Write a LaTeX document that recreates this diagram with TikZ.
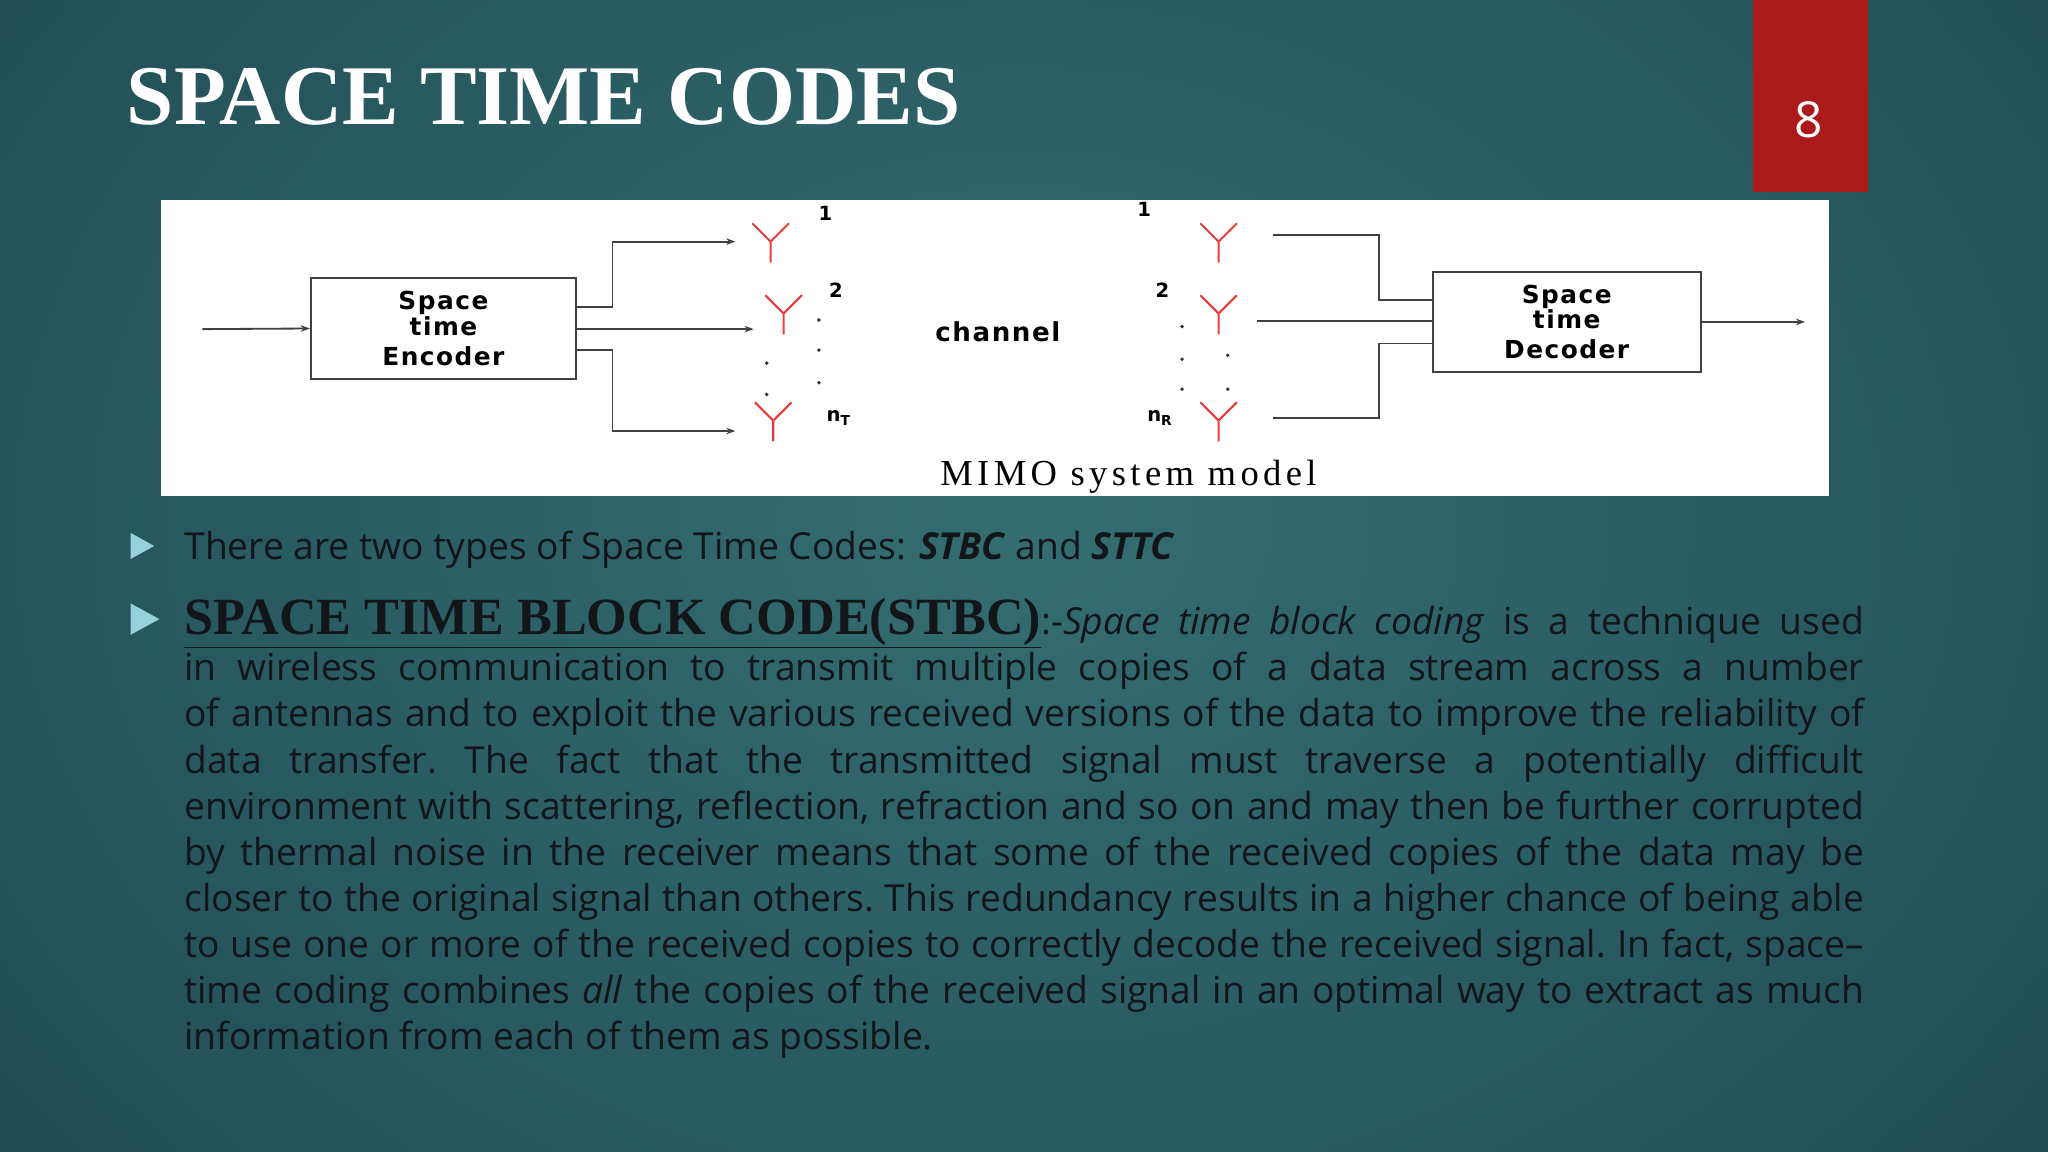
\documentclass[tikz,border=0pt]{standalone}
\usepackage{fontspec}
\setmainfont{Open Sans}
\newfontfamily\ttl{Liberation Serif}
\newfontfamily\cpf[LetterSpace=12]{Liberation Serif}
\newfontfamily\dg[LetterSpace=6]{DejaVu Sans}
\usetikzlibrary{arrows.meta}
\definecolor{bgc}{RGB}{52,110,114}
\definecolor{bge}{RGB}{28,66,78}
\definecolor{redb}{RGB}{170,26,26}
\definecolor{bul}{RGB}{150,210,222}
\definecolor{ant}{RGB}{235,60,60}
\definecolor{txt}{RGB}{18,22,24}
\newcommand{\nohyph}{\hyphenpenalty=10000\relax\exhyphenpenalty=10000\relax\frenchspacing}
\tikzset{
 blk/.style={draw=black!75,line width=1.6pt,fill=white,align=center,font=\dg\bfseries\fontsize{19}{17}\selectfont,inner sep=0},
 ln/.style={black!75,line width=1.4pt},
 arr/.style={ln,-{Stealth[length=7pt,width=5pt]}},
 lab/.style={font=\dg\bfseries\fontsize{15}{15}\selectfont,inner sep=0},
 bt/.style={anchor=north west,text width=1286pt,align=justify,font=\fontsize{28.5}{35.3}\selectfont,text=txt,inner sep=0},
}
\newcommand{\antY}[2]{\draw[ant,line width=1.6pt] (#1,#2+16)--(#1,#2) (#1-14,#2-14)--(#1,#2)--(#1+14,#2-14);}
\begin{document}
\begin{tikzpicture}[x=1pt,y=-1pt]
\useasboundingbox (0,0) rectangle (1568,882);
\shade[inner color=bgc, outer color=bge] (-500,-600) rectangle (2068,1400);
\fill[redb] (1342,0) rectangle (1430,147);
\node[text=white,font=\fontsize{38}{38}\selectfont] (pg) at (1385,92) {8};
\node[anchor=west,text=white,font=\ttl\bfseries\fontsize{65}{65}\selectfont,inner sep=0] (title) at (97,74) {SPACE TIME CODES};
\fill[white] (123,153) rectangle (1400,380);
\node[blk,minimum width=203pt,minimum height=77pt] (enc) at (339.5,251.5) {Space\\time\\[6pt]Encoder};
\node[blk,minimum width=205pt,minimum height=77pt] (dec) at (1199.5,246.5) {Space\\time\\[6pt]Decoder};
\coordinate (in) at (155,252);
\draw[arr] (in) -- (enc.west);
\draw[arr] (441,235) -- (469,235) -- (469,185) -- (563,185);
\draw[arr] (441,252) -- (577,252);
\draw[arr] (441,268) -- (469,268) -- (469,330) -- (563,330);
\draw[arr] (dec.east) -- (1382,246.5);
\antY{590}{185}\antY{600}{240}\antY{592}{322}
\antY{933}{185}\antY{933}{240}\antY{933}{322}
\draw[ln] (975,180) -- (1056,180) -- (1056,230) -- (1097,230);
\draw[ln] (962,246) -- (1097,246);
\draw[ln] (975,320) -- (1056,320) -- (1056,263) -- (1097,263);
\foreach \p in {(627,245),(627,268),(627,293),(587,278),(587,302),(905,250),(905,275),(905,298),(940,272),(940,298)} \fill[black!80] \p circle (1.5pt);
\node[lab] (t1) at (632,163) {1};
\node[lab] (t2) at (640,222) {2};
\node[lab] (tn) at (642,320) {n\textsubscript{T}};
\node[lab] (r1) at (876,160) {1};
\node[lab] (r2) at (890,222) {2};
\node[lab] (rn) at (888,320) {n\textsubscript{R}};
\node[font=\dg\bfseries\fontsize{20}{20}\selectfont] (ch) at (764,254) {channel};
\node[font=\cpf\fontsize{28}{28}\selectfont] (cap) at (864,365) {MIMO system model};
\fill[bul] (100,408) -- (118,418) -- (100,428) -- cycle;
\fill[bul] (100,462) -- (122,474) -- (100,486) -- cycle;
\node[bt] (b1) at (141,406) {There are two types of Space Time Codes: \textbf{\textit{STBC}} and \textbf{\textit{STTC}}};
\node[bt] (b2) at (141,458) {\nohyph{\ttl\bfseries\fontsize{40}{35.3}\selectfont\underline{SPACE TIME BLOCK CODE(STBC)}}:-\textit{Space time block coding} is a technique used\linebreak in wireless communication to transmit multiple copies of a data stream across a number\linebreak of antennas and to exploit the various received versions of the data to improve the reliability of\linebreak data transfer. The fact that the transmitted signal must traverse a potentially difficult\linebreak environment with scattering, reflection, refraction and so on and may then be further corrupted\linebreak by thermal noise in the receiver means that some of the received copies of the data may be\linebreak closer to the original signal than others. This redundancy results in a higher chance of being able\linebreak to use one or more of the received copies to correctly decode the received signal. In fact, space–\linebreak time coding combines \textit{all} the copies of the received signal in an optimal way to extract as much\linebreak information from each of them as possible.};
\end{tikzpicture}
\end{document}
